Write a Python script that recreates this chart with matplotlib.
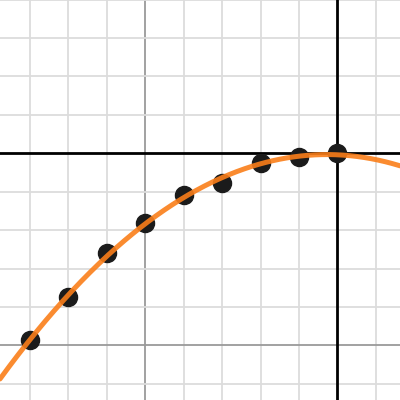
import numpy as np
import matplotlib
matplotlib.use("Agg")
import matplotlib.pyplot as plt

# data points (grid units)
x_pts = [-8, -7, -6, -5, -4, -3, -2, -1, 0]
y_pts = [-4.86, -3.74, -2.60, -1.81, -1.09, -0.76, -0.26, -0.10, 0.0]

# quadratic regression curve through the points
coef = np.polyfit(x_pts, y_pts, 2)

xmin, xmax = -8.78, 1.63
ymin, ymax = -6.42, 3.99

fig = plt.figure(figsize=(4, 4), dpi=100)
ax = fig.add_axes([0, 0, 1, 1])
ax.set_xlim(xmin, xmax)
ax.set_ylim(ymin, ymax)

# grid
for gx in range(-10, 3):
    if gx == 0:
        continue
    major = gx % 5 == 0
    ax.axvline(gx, color="#9a9a9a" if major else "#dcdcdc", lw=1.3, zorder=0)
for gy in range(-8, 5):
    if gy == 0:
        continue
    major = gy % 5 == 0
    ax.axhline(gy, color="#9a9a9a" if major else "#dcdcdc", lw=1.3, zorder=0)
ax.axhline(0, color="black", lw=2.0, zorder=1)
ax.axvline(0, color="black", lw=2.0, zorder=1)

ax.plot(x_pts, y_pts, "o", color="#1b1b1b", markersize=13, zorder=2)
xs = np.linspace(xmin, xmax, 400)
ax.plot(xs, np.polyval(coef, xs), color="#fa7e19", lw=3.6, zorder=3, alpha=0.9,
        solid_capstyle="round")

ax.set_xticks([])
ax.set_yticks([])
for s in ax.spines.values():
    s.set_visible(False)

fig.savefig("out.png", dpi=100)
